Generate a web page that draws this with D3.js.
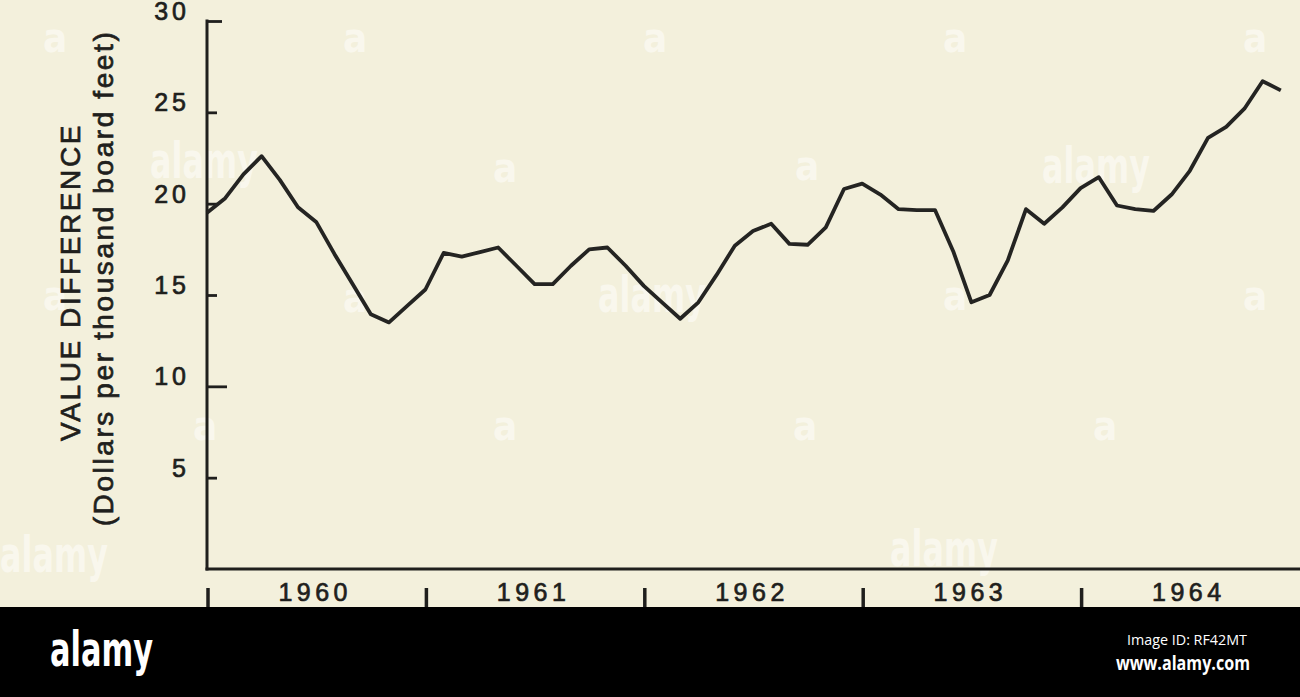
<!DOCTYPE html>
<html>
<head>
<meta charset="utf-8">
<script src="https://cdn.jsdelivr.net/npm/d3@7"></script>
<style>
  html, body { margin: 0; padding: 0; background: #f3f0dc; }
  svg { display: block; }
</style>
</head>
<body>
<svg id="chart" width="1300" height="697"></svg>
<script>
// ---- data ----
const years = ["1960", "1961", "1962", "1963", "1964"];
const monthsPerYear = 12;
// monthly value difference, Jan 1960 .. Dec 1964 (dollars per thousand board feet)
const values = [
  19.5, 20.3, 21.6, 22.6, 21.3, 19.8, 19.0, 17.25, 15.6, 13.95,
  13.5, 14.4, 15.3, 17.3, 17.1, 17.35, 17.6, 16.6, 15.6, 15.6,
  16.6, 17.5, 17.6, 16.6, 15.5, 14.6, 13.7, 14.6, 16.1, 17.7,
  18.5, 18.9, 17.8, 17.75, 18.7, 20.8, 21.1, 20.5, 19.7, 19.65,
  19.65, 17.4, 14.6, 15.0, 16.9, 19.7, 18.9, 19.8, 20.85, 21.45,
  19.9, 19.7, 19.6, 20.5, 21.8, 23.6, 24.2, 25.2, 26.7, 26.2
];
const yTicks = [5, 10, 15, 20, 25, 30];
const yTitle1 = "VALUE DIFFERENCE";
const yTitle2 = "(Dollars per thousand board feet)";

// ---- layout ----
const svg = d3.select("#chart");
const W = 1300, H = 697;
const bandTop = 607;
const ink = "#1f1f1d";

svg.append("rect").attr("x", 0).attr("y", 0).attr("width", W).attr("height", H).attr("fill", "#f3f0dc");

const x = d3.scaleLinear().domain([0, years.length * monthsPerYear]).range([207, 1299]);
const y = d3.scaleLinear().domain([0, 30]).range([569, 21]);

// watermarks (decoration)
const wm = svg.append("g").attr("fill", "#ffffff").attr("fill-opacity", 0.5)
  .style("font-family", "'Liberation Sans Narrow','DejaVu Sans Condensed',sans-serif")
  .style("font-weight", "bold");
[[150, 178], [598, 312], [1042, 183], [0, 572], [890, 566]].forEach(([px, py]) => {
  wm.append("text").attr("x", px).attr("y", py).attr("font-size", 50)
    .attr("textLength", 108).attr("lengthAdjust", "spacingAndGlyphs").text("alamy");
});
[[43, 52], [343, 52], [643, 52], [943, 52], [1243, 52],
 [493, 182], [795, 180],
 [43, 310], [343, 312], [943, 310], [1243, 310],
 [193, 440], [493, 440], [793, 440], [1093, 440]].forEach(([px, py]) => {
  wm.append("text").attr("x", px).attr("y", py).attr("font-size", 40).text("a");
});

// y axis
const yAxisG = svg.append("g").attr("transform", `translate(${x(0)},0)`)
  .call(d3.axisRight(y).tickValues(yTicks).tickSize(10).tickFormat(""));
yAxisG.select(".domain").remove();
yAxisG.selectAll(".tick line")
  .attr("stroke", ink).attr("stroke-width", 2.8)
  .attr("x2", d => d === 10 ? 20 : d === 30 ? 15 : 10);
svg.append("line")
  .attr("x1", x(0)).attr("x2", x(0)).attr("y1", y(30) - 1.5).attr("y2", y(0) + 1.5)
  .attr("stroke", ink).attr("stroke-width", 3);

const textStyle = sel => sel
  .style("font-family", "'Liberation Sans', Arial, sans-serif")
  .attr("fill", ink).attr("stroke", ink).attr("stroke-width", 0.7);

// y tick labels
svg.append("g").call(textStyle).selectAll("text").data(yTicks).join("text")
  .attr("x", 190).attr("y", d => y(d) - 1)
  .attr("text-anchor", "end")
  .style("font-size", "25px").style("letter-spacing", "4px")
  .text(d => d);

// x axis line
svg.append("line")
  .attr("x1", x(0) - 1.5).attr("x2", W).attr("y1", y(0)).attr("y2", y(0))
  .attr("stroke", ink).attr("stroke-width", 3);

// year separators and labels
const yearIdx = d3.range(years.length);
svg.append("g").selectAll("line").data(yearIdx).join("line")
  .attr("x1", i => x(i * monthsPerYear) + 1).attr("x2", i => x(i * monthsPerYear) + 1)
  .attr("y1", 588).attr("y2", 612)
  .attr("stroke", ink).attr("stroke-width", 3.5);
svg.append("g").call(textStyle).selectAll("text").data(years).join("text")
  .attr("x", (d, i) => x(i * monthsPerYear + monthsPerYear / 2) - 1)
  .attr("y", 601)
  .attr("text-anchor", "middle")
  .style("font-size", "25px").style("letter-spacing", "4.5px")
  .text(d => d);

// axis titles
const tg = svg.append("g").call(textStyle)
  .style("font-size", "28px").style("letter-spacing", "2.6px");
tg.append("text").attr("transform", "translate(80,282) rotate(-90)")
  .attr("text-anchor", "middle").text(yTitle1);
tg.append("text").attr("transform", "translate(113,278) rotate(-90)")
  .attr("text-anchor", "middle").text(yTitle2);

// data line
const line = d3.line().x((d, i) => x(i)).y(d => y(d));
svg.append("path").datum(values)
  .attr("d", line)
  .attr("fill", "none").attr("stroke", "#242422")
  .attr("stroke-width", 3.8).attr("stroke-linejoin", "round");

// bottom credit band
svg.append("rect").attr("x", 0).attr("y", bandTop).attr("width", W).attr("height", H - bandTop).attr("fill", "#000");
svg.append("text").attr("x", 50).attr("y", 666)
  .style("font-family", "'Liberation Sans Narrow','DejaVu Sans Condensed',sans-serif")
  .style("font-weight", "bold").attr("font-size", 48)
  .attr("textLength", 103).attr("lengthAdjust", "spacingAndGlyphs")
  .attr("fill", "#fff").text("alamy");
svg.append("text").attr("x", 1127).attr("y", 645)
  .style("font-family", "'Open Sans', 'DejaVu Sans', sans-serif")
  .attr("font-size", 15).attr("textLength", 120).attr("lengthAdjust", "spacingAndGlyphs")
  .attr("fill", "#fff").text("Image ID: RF42MT");
svg.append("text").attr("x", 1116).attr("y", 670)
  .style("font-family", "'Open Sans', 'DejaVu Sans', sans-serif")
  .style("font-weight", "bold").attr("font-size", 19)
  .attr("textLength", 134).attr("lengthAdjust", "spacingAndGlyphs")
  .attr("fill", "#fff").text("www.alamy.com");
</script>
</body>
</html>
